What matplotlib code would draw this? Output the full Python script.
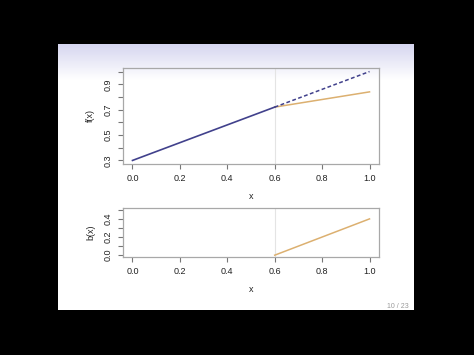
#!/usr/bin/env python3
"""Slide with an R-style plot: linear fit f(x) with a hinge at 0.6 and basis b(x)."""

import matplotlib

matplotlib.use("Agg")
import matplotlib.pyplot as plt
import numpy as np
from matplotlib.patches import Rectangle

# data
knot = 0.6
x_left = [0.0, 0.6]
f_left = [0.30, 0.72]
x_right = [0.6, 1.0]
f_linear = [0.72, 1.00]
f_hinge = [0.72, 0.84]
b_hinge = [0.0, 0.40]

top_yticks = [0.3, 0.4, 0.5, 0.6, 0.7, 0.8, 0.9, 1.0]
top_ylabels = ["0.3", "", "0.5", "", "0.7", "", "0.9", ""]
bot_yticks = [0.0, 0.1, 0.2, 0.3, 0.4, 0.5]
bot_ylabels = ["0.0", "", "0.2", "", "0.4", ""]
xticks = [0.0, 0.2, 0.4, 0.6, 0.8, 1.0]
xlabels = ["0.0", "0.2", "0.4", "0.6", "0.8", "1.0"]

NAVY = "#41418c"
TAN = "#dcb070"
BOX = "#a8a8a8"
FS = 6.5

plt.rcParams["font.family"] = ["Liberation Sans", "DejaVu Sans"]

W, H = 474, 355
fig = plt.figure(figsize=(W / 100, H / 100), dpi=100, facecolor="black")


def fx(px):
    return px / W


def fy(py):
    return 1 - py / H


# slide body (behind the axes)
sl, sr, st, sb = 58, 414, 44, 310
fig.patches.append(
    Rectangle((fx(sl), fy(sb)), fx(sr) - fx(sl), fy(st) - fy(sb),
              transform=fig.transFigure, facecolor="white", edgecolor="none",
              zorder=-5)
)
# lavender header gradient
grad_ax = fig.add_axes([fx(sl), fy(80), fx(sr) - fx(sl), fy(st) - fy(80)])
grad_ax.set_axis_off()
grad_ax.set_zorder(-4)
g = np.linspace(0, 1, 64)[:, None]
top_col = np.array([0.84, 0.84, 0.94])
img = top_col[None, None, :] * (1 - g[..., None]) + np.ones(3) * g[..., None]
grad_ax.imshow(img, aspect="auto", extent=[0, 1, 0, 1], origin="upper")

fig.text(fx(398), fy(306), "10 / 23", fontsize=5, color="#9a9a9a",
         ha="center", va="center")


def r_axes(rect, ylim, yticks, ylabels, ylab):
    ax = fig.add_axes(rect)
    ax.set_facecolor("none")
    ax.set_xlim(-0.04, 1.04)
    ax.set_ylim(*ylim)
    for s in ax.spines.values():
        s.set_color(BOX)
        s.set_linewidth(0.9)
    ax.set_xticks(xticks)
    ax.set_xticklabels(xlabels)
    ax.set_yticks(yticks)
    ax.set_yticklabels(ylabels, rotation=90, va="center")
    ax.tick_params(axis="both", direction="out", length=3.5, width=0.8,
                   color="#777777", labelsize=FS, labelcolor="#222222", pad=4)
    ax.set_xlabel("x", fontsize=FS, labelpad=6, color="#222222")
    ax.set_ylabel(ylab, fontsize=FS, labelpad=6, color="#222222")
    ax.axvline(knot, color="#e4e4e4", linewidth=0.8, zorder=0)
    return ax


top = r_axes([fx(123), fy(164), fx(379) - fx(123), fy(68) - fy(164)],
             (0.272, 1.028), top_yticks, top_ylabels, "f(x)")
top.plot(x_right, f_hinge, color=TAN, linewidth=1.1)
top.plot(x_right, f_linear, color=NAVY, linewidth=1.1, linestyle=(0, (2.5, 1.6)))
top.plot(x_left, f_left, color=NAVY, linewidth=1.2)

bot = r_axes([fx(123), fy(257), fx(379) - fx(123), fy(208) - fy(257)],
             (-0.02, 0.52), bot_yticks, bot_ylabels, "b(x)")
bot.plot(x_right, b_hinge, color=TAN, linewidth=1.1)

fig.savefig("out.png", dpi=100, facecolor=fig.get_facecolor())
